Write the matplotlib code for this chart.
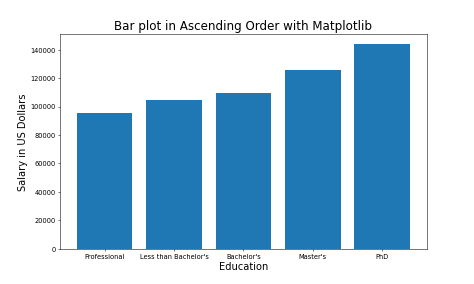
import matplotlib
matplotlib.use("Agg")
import matplotlib.pyplot as plt

education = ["Professional", "Less than Bachelor's", "Bachelor's", "Master's", "PhD"]
salary = [95700, 104500, 109500, 125500, 143800]

plt.figure(figsize=(10, 6), dpi=47.4)
plt.subplots_adjust(left=0.127, right=0.9, bottom=0.124, top=0.879)
plt.bar(education, salary)
plt.title("Bar plot in Ascending Order with Matplotlib", fontsize=18)
plt.xlabel("Education", fontsize=15)
plt.ylabel("Salary in US Dollars", fontsize=15)

plt.savefig("out.png", dpi=47.4)
